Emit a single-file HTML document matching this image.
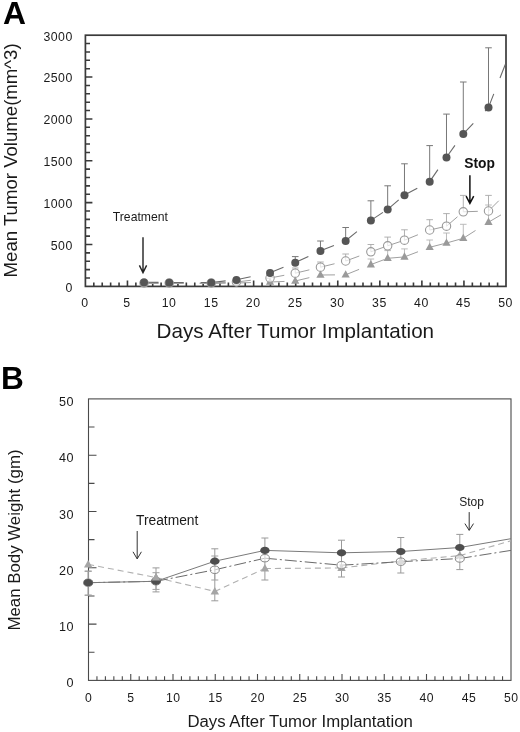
<!DOCTYPE html>
<html><head><meta charset="utf-8"><title>Figure</title>
<style>html,body{margin:0;padding:0;background:#fff;}svg{display:block;}</style>
</head><body>
<svg width="520" height="732" viewBox="0 0 520 732" font-family="&quot;Liberation Sans&quot;, Arial, sans-serif">
<rect width="520" height="732" fill="#fff"/>
<rect x="85.4" y="35.2" width="420.6" height="251.2" fill="none" stroke="#3a3a3a" stroke-width="1.7"/>
<path d="M85.4 278.03h4.6 M85.4 269.65h4.6 M85.4 261.28h4.6 M85.4 252.91h4.6 M85.4 244.53h7 M85.4 236.16h4.6 M85.4 227.79h4.6 M85.4 219.41h4.6 M85.4 211.04h4.6 M85.4 202.67h7 M85.4 194.29h4.6 M85.4 185.92h4.6 M85.4 177.55h4.6 M85.4 169.17h4.6 M85.4 160.8h7 M85.4 152.43h4.6 M85.4 144.05h4.6 M85.4 135.68h4.6 M85.4 127.31h4.6 M85.4 118.93h7 M85.4 110.56h4.6 M85.4 102.19h4.6 M85.4 93.81h4.6 M85.4 85.44h4.6 M85.4 77.07h7 M85.4 68.69h4.6 M85.4 60.32h4.6 M85.4 51.95h4.6 M85.4 43.57h4.6 M93.81 286.4v-3.8 M102.22 286.4v-3.8 M110.64 286.4v-3.8 M119.05 286.4v-3.8 M127.46 286.4v-6 M135.87 286.4v-3.8 M144.28 286.4v-3.8 M152.7 286.4v-3.8 M161.11 286.4v-3.8 M169.52 286.4v-6 M177.93 286.4v-3.8 M186.34 286.4v-3.8 M194.76 286.4v-3.8 M203.17 286.4v-3.8 M211.58 286.4v-6 M219.99 286.4v-3.8 M228.4 286.4v-3.8 M236.82 286.4v-3.8 M245.23 286.4v-3.8 M253.64 286.4v-6 M262.05 286.4v-3.8 M270.46 286.4v-3.8 M278.88 286.4v-3.8 M287.29 286.4v-3.8 M295.7 286.4v-6 M304.11 286.4v-3.8 M312.52 286.4v-3.8 M320.94 286.4v-3.8 M329.35 286.4v-3.8 M337.76 286.4v-6 M346.17 286.4v-3.8 M354.58 286.4v-3.8 M363 286.4v-3.8 M371.41 286.4v-3.8 M379.82 286.4v-6 M388.23 286.4v-3.8 M396.64 286.4v-3.8 M405.06 286.4v-3.8 M413.47 286.4v-3.8 M421.88 286.4v-6 M430.29 286.4v-3.8 M438.7 286.4v-3.8 M447.12 286.4v-3.8 M455.53 286.4v-3.8 M463.94 286.4v-6 M472.35 286.4v-3.8 M480.76 286.4v-3.8 M489.18 286.4v-3.8 M497.59 286.4v-3.8" stroke="#3a3a3a" stroke-width="1.6" fill="none"/>
<text x="72.8" y="291.7" text-anchor="end" font-size="12.3" fill="#1a1a1a" letter-spacing="0.5">0</text>
<text x="72.8" y="249.83" text-anchor="end" font-size="12.3" fill="#1a1a1a" letter-spacing="0.5">500</text>
<text x="72.8" y="207.97" text-anchor="end" font-size="12.3" fill="#1a1a1a" letter-spacing="0.5">1000</text>
<text x="72.8" y="166.1" text-anchor="end" font-size="12.3" fill="#1a1a1a" letter-spacing="0.5">1500</text>
<text x="72.8" y="124.23" text-anchor="end" font-size="12.3" fill="#1a1a1a" letter-spacing="0.5">2000</text>
<text x="72.8" y="82.37" text-anchor="end" font-size="12.3" fill="#1a1a1a" letter-spacing="0.5">2500</text>
<text x="72.8" y="40.5" text-anchor="end" font-size="12.3" fill="#1a1a1a" letter-spacing="0.5">3000</text>
<text x="85" y="307.4" text-anchor="middle" font-size="12.3" fill="#1a1a1a" letter-spacing="0.6">0</text>
<text x="127.06" y="307.4" text-anchor="middle" font-size="12.3" fill="#1a1a1a" letter-spacing="0.6">5</text>
<text x="169.12" y="307.4" text-anchor="middle" font-size="12.3" fill="#1a1a1a" letter-spacing="0.6">10</text>
<text x="211.18" y="307.4" text-anchor="middle" font-size="12.3" fill="#1a1a1a" letter-spacing="0.6">15</text>
<text x="253.24" y="307.4" text-anchor="middle" font-size="12.3" fill="#1a1a1a" letter-spacing="0.6">20</text>
<text x="295.3" y="307.4" text-anchor="middle" font-size="12.3" fill="#1a1a1a" letter-spacing="0.6">25</text>
<text x="337.36" y="307.4" text-anchor="middle" font-size="12.3" fill="#1a1a1a" letter-spacing="0.6">30</text>
<text x="379.42" y="307.4" text-anchor="middle" font-size="12.3" fill="#1a1a1a" letter-spacing="0.6">35</text>
<text x="421.48" y="307.4" text-anchor="middle" font-size="12.3" fill="#1a1a1a" letter-spacing="0.6">40</text>
<text x="463.54" y="307.4" text-anchor="middle" font-size="12.3" fill="#1a1a1a" letter-spacing="0.6">45</text>
<text x="505.6" y="307.4" text-anchor="middle" font-size="12.3" fill="#1a1a1a" letter-spacing="0.6">50</text>
<text x="156.6" y="337.8" font-size="19.8" fill="#1a1a1a" textLength="277.5" lengthAdjust="spacingAndGlyphs">Days After Tumor Implantation</text>
<text transform="translate(17.3 277.4) rotate(-90)" x="0" y="0" font-size="18.6" fill="#1a1a1a" textLength="234" lengthAdjust="spacingAndGlyphs">Mean Tumor Volume(mm^3)</text>
<text x="2.9" y="23.9" font-size="31.8" font-weight="bold" fill="#000">A</text>
<g fill="none" stroke="#a0a0a0" stroke-width="1.0" stroke-dasharray="14.5 16"><path d="M144.01 283.5L169.22 283.5"/><path d="M169.22 283.5L211.23 283.5"/><path d="M211.23 283.5L236.44 283"/><path d="M236.44 283L270.04 282"/><path d="M270.04 282L295.25 281"/><path d="M295.25 281L320.46 275"/><path d="M320.46 275L345.66 274.8"/><path d="M345.66 274.8L370.87 264.6"/><path d="M370.87 264.6L387.67 258.3"/><path d="M387.67 258.3L404.48 256.9"/><path d="M404.48 256.9L429.68 247.3"/><path d="M429.68 247.3L446.49 243"/><path d="M446.49 243L463.29 238.3"/><path d="M463.29 238.3L488.5 222.2"/><path d="M488.5 222.2L502.5 214"/></g>
<g fill="none" stroke="#a0a0a0" stroke-width="1.0" stroke-dasharray="14.5 16"><path d="M144.01 283L169.22 283"/><path d="M169.22 283L211.23 283"/><path d="M211.23 283L236.44 282"/><path d="M236.44 282L270.04 278"/><path d="M270.04 278L295.25 273.2"/><path d="M295.25 273.2L320.46 267.2"/><path d="M320.46 267.2L345.66 261"/><path d="M345.66 261L370.87 251.8"/><path d="M370.87 251.8L387.67 245.8"/><path d="M387.67 245.8L404.48 240.2"/><path d="M404.48 240.2L429.68 230"/><path d="M429.68 230L446.49 226.2"/><path d="M446.49 226.2L463.29 211.8"/><path d="M463.29 211.8L488.5 211"/><path d="M488.5 211L504 195.5"/></g>
<g fill="none" stroke="#6a6a6a" stroke-width="1.1" stroke-dasharray="14.5 17"><path d="M144.01 282.2L169.22 282.5"/><path d="M169.22 282.5L211.23 282.5"/><path d="M211.23 282.5L236.44 279.7"/><path d="M236.44 279.7L270.04 272.8"/><path d="M270.04 272.8L295.25 262.6"/><path d="M295.25 262.6L320.46 250.8"/><path d="M320.46 250.8L345.66 240.8"/><path d="M345.66 240.8L370.87 220.4"/><path d="M370.87 220.4L387.67 209.3"/><path d="M387.67 209.3L404.48 195"/><path d="M404.48 195L429.68 181.6"/><path d="M429.68 181.6L446.49 157.2"/><path d="M446.49 157.2L463.29 133.8"/><path d="M463.29 133.8L488.5 107.4"/><path d="M488.5 107.4L505.5 64"/></g>
<path d="M370.87 264.6V259M367.57 259h6.6" stroke="#b4b4b4" stroke-width="0.9" fill="none"/>
<path d="M387.67 258.3V250.6M384.37 250.6h6.6" stroke="#b4b4b4" stroke-width="0.9" fill="none"/>
<path d="M404.48 256.9V248.9M401.18 248.9h6.6" stroke="#b4b4b4" stroke-width="0.9" fill="none"/>
<path d="M429.68 247.3V240M426.38 240h6.6" stroke="#b4b4b4" stroke-width="0.9" fill="none"/>
<path d="M446.49 243V233M443.19 233h6.6" stroke="#b4b4b4" stroke-width="0.9" fill="none"/>
<path d="M463.29 238.3V224.3M459.99 224.3h6.6" stroke="#b4b4b4" stroke-width="0.9" fill="none"/>
<path d="M488.5 222.2V205M485.2 205h6.6" stroke="#b4b4b4" stroke-width="0.9" fill="none"/>
<path d="M295.25 273.2V268M291.95 268h6.6" stroke="#a8a8a8" stroke-width="0.9" fill="none"/>
<path d="M320.46 267.2V262M317.16 262h6.6" stroke="#a8a8a8" stroke-width="0.9" fill="none"/>
<path d="M345.66 261V254M342.36 254h6.6" stroke="#a8a8a8" stroke-width="0.9" fill="none"/>
<path d="M370.87 251.8V244.5M367.57 244.5h6.6" stroke="#a8a8a8" stroke-width="0.9" fill="none"/>
<path d="M387.67 245.8V237.1M384.37 237.1h6.6" stroke="#a8a8a8" stroke-width="0.9" fill="none"/>
<path d="M404.48 240.2V229.8M401.18 229.8h6.6" stroke="#a8a8a8" stroke-width="0.9" fill="none"/>
<path d="M429.68 230V219.7M426.38 219.7h6.6" stroke="#a8a8a8" stroke-width="0.9" fill="none"/>
<path d="M446.49 226.2V213.6M443.19 213.6h6.6" stroke="#a8a8a8" stroke-width="0.9" fill="none"/>
<path d="M463.29 211.8V195.4M459.99 195.4h6.6" stroke="#a8a8a8" stroke-width="0.9" fill="none"/>
<path d="M488.5 211V195.4M485.2 195.4h6.6" stroke="#a8a8a8" stroke-width="0.9" fill="none"/>
<path d="M295.25 262.6V256.6M291.95 256.6h6.6" stroke="#787878" stroke-width="1.0" fill="none"/>
<path d="M320.46 250.8V241M317.16 241h6.6" stroke="#787878" stroke-width="1.0" fill="none"/>
<path d="M345.66 240.8V227.5M342.36 227.5h6.6" stroke="#787878" stroke-width="1.0" fill="none"/>
<path d="M370.87 220.4V200.8M367.57 200.8h6.6" stroke="#787878" stroke-width="1.0" fill="none"/>
<path d="M387.67 209.3V185.8M384.37 185.8h6.6" stroke="#787878" stroke-width="1.0" fill="none"/>
<path d="M404.48 195V163.8M401.18 163.8h6.6" stroke="#787878" stroke-width="1.0" fill="none"/>
<path d="M429.68 181.6V145.6M426.38 145.6h6.6" stroke="#787878" stroke-width="1.0" fill="none"/>
<path d="M446.49 157.2V114.1M443.19 114.1h6.6" stroke="#787878" stroke-width="1.0" fill="none"/>
<path d="M463.29 133.8V82M459.99 82h6.6" stroke="#787878" stroke-width="1.0" fill="none"/>
<path d="M488.5 107.4V47.8M485.2 47.8h6.6" stroke="#787878" stroke-width="1.0" fill="none"/>
<path d="M144.01 278.9L148.11 286.3H139.91Z" fill="#9a9a9a"/>
<path d="M169.22 278.9L173.32 286.3H165.12Z" fill="#9a9a9a"/>
<path d="M211.23 278.9L215.33 286.3H207.13Z" fill="#9a9a9a"/>
<path d="M236.44 278.4L240.54 285.8H232.34Z" fill="#9a9a9a"/>
<path d="M270.04 277.4L274.14 284.8H265.94Z" fill="#9a9a9a"/>
<path d="M295.25 276.4L299.35 283.8H291.15Z" fill="#9a9a9a"/>
<path d="M320.46 270.4L324.56 277.8H316.36Z" fill="#9a9a9a"/>
<path d="M345.66 270.2L349.76 277.6H341.56Z" fill="#9a9a9a"/>
<path d="M370.87 260L374.97 267.4H366.77Z" fill="#9a9a9a"/>
<path d="M387.67 253.7L391.77 261.1H383.57Z" fill="#9a9a9a"/>
<path d="M404.48 252.3L408.58 259.7H400.38Z" fill="#9a9a9a"/>
<path d="M429.68 242.7L433.78 250.1H425.58Z" fill="#9a9a9a"/>
<path d="M446.49 238.4L450.59 245.8H442.39Z" fill="#9a9a9a"/>
<path d="M463.29 233.7L467.39 241.1H459.19Z" fill="#9a9a9a"/>
<path d="M488.5 217.6L492.6 225H484.4Z" fill="#9a9a9a"/>
<circle cx="144.01" cy="283" r="4.2" fill="#fff" fill-opacity="0.7" stroke="#999" stroke-width="1.1"/>
<circle cx="169.22" cy="283" r="4.2" fill="#fff" fill-opacity="0.7" stroke="#999" stroke-width="1.1"/>
<circle cx="211.23" cy="283" r="4.2" fill="#fff" fill-opacity="0.7" stroke="#999" stroke-width="1.1"/>
<circle cx="236.44" cy="282" r="4.2" fill="#fff" fill-opacity="0.7" stroke="#999" stroke-width="1.1"/>
<circle cx="270.04" cy="278" r="4.2" fill="#fff" fill-opacity="0.7" stroke="#999" stroke-width="1.1"/>
<circle cx="295.25" cy="273.2" r="4.2" fill="#fff" fill-opacity="0.7" stroke="#999" stroke-width="1.1"/>
<circle cx="320.46" cy="267.2" r="4.2" fill="#fff" fill-opacity="0.7" stroke="#999" stroke-width="1.1"/>
<circle cx="345.66" cy="261" r="4.2" fill="#fff" fill-opacity="0.7" stroke="#999" stroke-width="1.1"/>
<circle cx="370.87" cy="251.8" r="4.2" fill="#fff" fill-opacity="0.7" stroke="#999" stroke-width="1.1"/>
<circle cx="387.67" cy="245.8" r="4.2" fill="#fff" fill-opacity="0.7" stroke="#999" stroke-width="1.1"/>
<circle cx="404.48" cy="240.2" r="4.2" fill="#fff" fill-opacity="0.7" stroke="#999" stroke-width="1.1"/>
<circle cx="429.68" cy="230" r="4.2" fill="#fff" fill-opacity="0.7" stroke="#999" stroke-width="1.1"/>
<circle cx="446.49" cy="226.2" r="4.2" fill="#fff" fill-opacity="0.7" stroke="#999" stroke-width="1.1"/>
<circle cx="463.29" cy="211.8" r="4.2" fill="#fff" fill-opacity="0.7" stroke="#999" stroke-width="1.1"/>
<circle cx="488.5" cy="211" r="4.2" fill="#fff" fill-opacity="0.7" stroke="#999" stroke-width="1.1"/>
<circle cx="144.01" cy="282.4" r="4.0" fill="#555"/>
<circle cx="169.22" cy="282.7" r="4.0" fill="#555"/>
<circle cx="211.23" cy="282.7" r="4.0" fill="#555"/>
<circle cx="236.44" cy="279.9" r="4.0" fill="#555"/>
<circle cx="270.04" cy="273" r="4.0" fill="#555"/>
<circle cx="295.25" cy="262.8" r="4.0" fill="#555"/>
<circle cx="320.46" cy="251" r="4.0" fill="#555"/>
<circle cx="345.66" cy="241" r="4.0" fill="#555"/>
<circle cx="370.87" cy="220.6" r="4.0" fill="#555"/>
<circle cx="387.67" cy="209.5" r="4.0" fill="#555"/>
<circle cx="404.48" cy="195.2" r="4.0" fill="#555"/>
<circle cx="429.68" cy="181.8" r="4.0" fill="#555"/>
<circle cx="446.49" cy="157.4" r="4.0" fill="#555"/>
<circle cx="463.29" cy="134" r="4.0" fill="#555"/>
<circle cx="488.5" cy="107.6" r="4.0" fill="#555"/>
<text x="112.8" y="221.2" font-size="12.2" fill="#1a1a1a">Treatment</text>
<path d="M143 237.3V272.5M139.4 265.4L143 272.7L146.6 265.4" stroke="#222" stroke-width="1.4" fill="none"/>
<text x="464.2" y="167.9" font-size="13.8" font-weight="bold" fill="#111">Stop</text>
<path d="M469.9 175.2V203.4M466.1 196.2L469.9 203.4L473.7 196.2" stroke="#111" stroke-width="1.5" fill="none"/>
<rect x="88.5" y="398.9" width="422.5" height="281.5" fill="none" stroke="#4a4a4a" stroke-width="1.1"/>
<path d="M88.5 652.25h6 M88.5 624.1h8 M88.5 595.95h6 M88.5 567.8h8 M88.5 539.65h6 M88.5 511.5h8 M88.5 483.35h6 M88.5 455.2h8 M88.5 427.05h6 M96.95 680.4v-4.2 M105.4 680.4v-4.2 M113.85 680.4v-4.2 M122.3 680.4v-4.2 M130.75 680.4v-6.5 M139.2 680.4v-4.2 M147.65 680.4v-4.2 M156.1 680.4v-4.2 M164.55 680.4v-4.2 M173 680.4v-6.5 M181.45 680.4v-4.2 M189.9 680.4v-4.2 M198.35 680.4v-4.2 M206.8 680.4v-4.2 M215.25 680.4v-6.5 M223.7 680.4v-4.2 M232.15 680.4v-4.2 M240.6 680.4v-4.2 M249.05 680.4v-4.2 M257.5 680.4v-6.5 M265.95 680.4v-4.2 M274.4 680.4v-4.2 M282.85 680.4v-4.2 M291.3 680.4v-4.2 M299.75 680.4v-6.5 M308.2 680.4v-4.2 M316.65 680.4v-4.2 M325.1 680.4v-4.2 M333.55 680.4v-4.2 M342 680.4v-6.5 M350.45 680.4v-4.2 M358.9 680.4v-4.2 M367.35 680.4v-4.2 M375.8 680.4v-4.2 M384.25 680.4v-6.5 M392.7 680.4v-4.2 M401.15 680.4v-4.2 M409.6 680.4v-4.2 M418.05 680.4v-4.2 M426.5 680.4v-6.5 M434.95 680.4v-4.2 M443.4 680.4v-4.2 M451.85 680.4v-4.2 M460.3 680.4v-4.2 M468.75 680.4v-6.5 M477.2 680.4v-4.2 M485.65 680.4v-4.2 M494.1 680.4v-4.2 M502.55 680.4v-4.2" stroke="#4a4a4a" stroke-width="1.1" fill="none"/>
<text x="73.9" y="686.7" text-anchor="end" font-size="12.6" fill="#1a1a1a" letter-spacing="0.5">0</text>
<text x="73.9" y="631.2" text-anchor="end" font-size="12.6" fill="#1a1a1a" letter-spacing="0.5">10</text>
<text x="73.9" y="574.9" text-anchor="end" font-size="12.6" fill="#1a1a1a" letter-spacing="0.5">20</text>
<text x="73.9" y="518.6" text-anchor="end" font-size="12.6" fill="#1a1a1a" letter-spacing="0.5">30</text>
<text x="73.9" y="462.3" text-anchor="end" font-size="12.6" fill="#1a1a1a" letter-spacing="0.5">40</text>
<text x="73.9" y="406" text-anchor="end" font-size="12.6" fill="#1a1a1a" letter-spacing="0.5">50</text>
<text x="88.7" y="701.8" text-anchor="middle" font-size="12.2" fill="#1a1a1a" letter-spacing="0.5">0</text>
<text x="130.95" y="701.8" text-anchor="middle" font-size="12.2" fill="#1a1a1a" letter-spacing="0.5">5</text>
<text x="173.2" y="701.8" text-anchor="middle" font-size="12.2" fill="#1a1a1a" letter-spacing="0.5">10</text>
<text x="215.45" y="701.8" text-anchor="middle" font-size="12.2" fill="#1a1a1a" letter-spacing="0.5">15</text>
<text x="257.7" y="701.8" text-anchor="middle" font-size="12.2" fill="#1a1a1a" letter-spacing="0.5">20</text>
<text x="299.95" y="701.8" text-anchor="middle" font-size="12.2" fill="#1a1a1a" letter-spacing="0.5">25</text>
<text x="342.2" y="701.8" text-anchor="middle" font-size="12.2" fill="#1a1a1a" letter-spacing="0.5">30</text>
<text x="384.45" y="701.8" text-anchor="middle" font-size="12.2" fill="#1a1a1a" letter-spacing="0.5">35</text>
<text x="426.7" y="701.8" text-anchor="middle" font-size="12.2" fill="#1a1a1a" letter-spacing="0.5">40</text>
<text x="468.95" y="701.8" text-anchor="middle" font-size="12.2" fill="#1a1a1a" letter-spacing="0.5">45</text>
<text x="511.2" y="701.8" text-anchor="middle" font-size="12.2" fill="#1a1a1a" letter-spacing="0.5">50</text>
<text x="187.4" y="726.9" font-size="15.8" fill="#1a1a1a" textLength="225.5" lengthAdjust="spacingAndGlyphs">Days After Tumor Implantation</text>
<text transform="translate(20.2 630.5) rotate(-90)" x="0" y="0" font-size="16.5" fill="#1a1a1a" textLength="181" lengthAdjust="spacingAndGlyphs">Mean Body Weight (gm)</text>
<text x="0.9" y="388.9" font-size="31.6" font-weight="bold" fill="#000">B</text>
<g fill="none" stroke="#b0b0b0" stroke-width="1.1" stroke-dasharray="6 4"><path d="M88.2 564.4L156 577.5"/><path d="M156 577.5L214.8 591.4"/><path d="M214.8 591.4L264.9 568.5"/><path d="M264.9 568.5L341.5 568"/><path d="M341.5 568L400.8 561"/><path d="M400.8 561L459.8 555.6"/><path d="M459.8 555.6L511 540.8"/></g>
<g fill="none" stroke="#6a6a6a" stroke-width="1.0" stroke-dasharray="12 3 2 3"><path d="M88.2 582.7L156 581.3"/><path d="M156 581.3L214.8 569.8"/><path d="M214.8 569.8L264.9 558.2"/><path d="M264.9 558.2L341.5 565.2"/><path d="M341.5 565.2L400.8 561.7"/><path d="M400.8 561.7L459.8 558.5"/><path d="M459.8 558.5L511 550.4"/></g>
<path d="M88.2 582.7 L156 581.3 L214.8 561.2 L264.9 550.4 L341.5 552.8 L400.8 551.5 L459.8 547.5 L511 538.7" fill="none" stroke="#7a7a7a" stroke-width="1.0"/>
<path d="M88.2 571.2V595.2M84.7 571.2h7M84.7 595.2h7" stroke="#9a9a9a" stroke-width="1" fill="none"/>
<path d="M156 567.9V591.9M152.5 567.9h7M152.5 591.9h7" stroke="#9a9a9a" stroke-width="1" fill="none"/>
<path d="M214.8 548.8V600.8M211.3 548.8h7M211.3 600.8h7" stroke="#9a9a9a" stroke-width="1" fill="none"/>
<path d="M264.9 538V580M261.4 538h7M261.4 580h7" stroke="#9a9a9a" stroke-width="1" fill="none"/>
<path d="M341.5 540.2V577M338 540.2h7M338 577h7" stroke="#9a9a9a" stroke-width="1" fill="none"/>
<path d="M400.8 537.5V573M397.3 537.5h7M397.3 573h7" stroke="#9a9a9a" stroke-width="1" fill="none"/>
<path d="M459.8 534.4V569.6M456.3 534.4h7M456.3 569.6h7" stroke="#9a9a9a" stroke-width="1" fill="none"/>
<path d="M156 572.7V589.4M152.5 572.7h7M152.5 589.4h7" stroke="#a0a0a0" stroke-width="1" fill="none"/>
<path d="M214.8 556V580M211.3 556h7M211.3 580h7" stroke="#a0a0a0" stroke-width="1" fill="none"/>
<path d="M88.2 571.2V595.2M84.7 571.2h7M84.7 595.2h7" stroke="#a0a0a0" stroke-width="1" fill="none"/>
<path d="M88.2 559.9L92.4 567.4H84Z" fill="#a5a5a5"/>
<path d="M156 573L160.2 580.5H151.8Z" fill="#a5a5a5"/>
<path d="M214.8 586.9L219 594.4H210.6Z" fill="#a5a5a5"/>
<path d="M264.9 564L269.1 571.5H260.7Z" fill="#a5a5a5"/>
<path d="M341.5 563.5L345.7 571H337.3Z" fill="#a5a5a5"/>
<path d="M400.8 556.5L405 564H396.6Z" fill="#a5a5a5"/>
<path d="M459.8 551.1L464 558.6H455.6Z" fill="#a5a5a5"/>
<ellipse cx="88.2" cy="582.7" rx="4.5" ry="3.7" fill="#fff" fill-opacity="0.6" stroke="#888" stroke-width="1"/>
<ellipse cx="156" cy="581.3" rx="4.5" ry="3.7" fill="#fff" fill-opacity="0.6" stroke="#888" stroke-width="1"/>
<ellipse cx="214.8" cy="569.8" rx="4.5" ry="3.7" fill="#fff" fill-opacity="0.6" stroke="#888" stroke-width="1"/>
<ellipse cx="264.9" cy="558.2" rx="4.5" ry="3.7" fill="#fff" fill-opacity="0.6" stroke="#888" stroke-width="1"/>
<ellipse cx="341.5" cy="565.2" rx="4.5" ry="3.7" fill="#fff" fill-opacity="0.6" stroke="#888" stroke-width="1"/>
<ellipse cx="400.8" cy="561.7" rx="4.5" ry="3.7" fill="#fff" fill-opacity="0.6" stroke="#888" stroke-width="1"/>
<ellipse cx="459.8" cy="558.5" rx="4.5" ry="3.7" fill="#fff" fill-opacity="0.6" stroke="#888" stroke-width="1"/>
<ellipse cx="88.2" cy="582.7" rx="4.7" ry="3.6" fill="#4e4e4e"/>
<ellipse cx="156" cy="581.3" rx="4.7" ry="3.6" fill="#4e4e4e"/>
<ellipse cx="214.8" cy="561.2" rx="4.7" ry="3.6" fill="#4e4e4e"/>
<ellipse cx="264.9" cy="550.4" rx="4.7" ry="3.6" fill="#4e4e4e"/>
<ellipse cx="341.5" cy="552.8" rx="4.7" ry="3.6" fill="#4e4e4e"/>
<ellipse cx="400.8" cy="551.5" rx="4.7" ry="3.6" fill="#4e4e4e"/>
<ellipse cx="459.8" cy="547.5" rx="4.7" ry="3.6" fill="#4e4e4e"/>
<path d="M156 573L160.2 580.5H151.8Z" fill="#a5a5a5"/>
<text x="136" y="524.7" font-size="13.8" fill="#1a1a1a">Treatment</text>
<path d="M137.2 531V558.7M133 551.8L137.2 558.9L141.4 551.8" stroke="#333" stroke-width="1" fill="none"/>
<text x="459.2" y="505.7" font-size="12" fill="#1a1a1a">Stop</text>
<path d="M469.2 512.1V530.2M464.9 523.6L469.2 530.4L473.5 523.6" stroke="#333" stroke-width="1" fill="none"/>
</svg>
</body></html>
